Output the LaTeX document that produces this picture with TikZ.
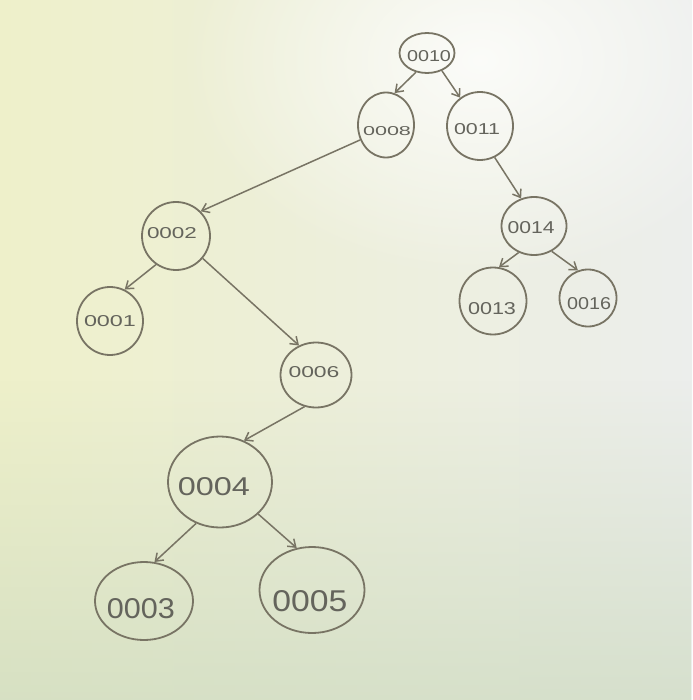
\documentclass[tikz,border=0pt]{standalone}
\usepackage{fontspec}
\setmainfont{Liberation Sans}
\usepackage{graphicx}
\usetikzlibrary{shapes.geometric,arrows.meta,fadings}
\tikzfading[name=softglow, inner color=transparent!0, outer color=transparent!100]
\definecolor{pencil}{RGB}{120,116,100}
\definecolor{ink}{RGB}{100,100,92}
\definecolor{paperL}{RGB}{238,240,202}
\definecolor{paperR}{RGB}{236,238,236}
\definecolor{paperG}{RGB}{205,218,192}
\tikzset{
  bubble/.style={ellipse, draw=pencil, line width=1.8pt, inner sep=0pt},
  lbl/.style={inner sep=0pt, text=ink},
  edge/.style={draw=pencil, line width=1.5pt, -{Straight Barb[length=7pt,width=10pt]}}
}
\newcommand{\hw}[3]{\resizebox{#1pt}{#2pt}{#3}}
\begin{document}
\begin{tikzpicture}[x=1pt,y=-1pt]
\useasboundingbox (0,0) rectangle (692,700);
\shade[left color=paperL, right color=paperR] (0,0) rectangle (692,700);
\fill[paperG, path fading=north, opacity=0.7] (0,380) rectangle (692,700);
\fill[white, path fading=softglow, opacity=0.8] (480,60) ellipse (300 and 220);

% nodes
\node[bubble, minimum width=55pt, minimum height=40pt] (n10) at (427,53) {};
\node[bubble, minimum width=56pt, minimum height=65pt] (n8) at (386,125) {};
\node[bubble, minimum width=66pt, minimum height=68pt] (n11) at (480,126) {};
\node[bubble, minimum width=65pt, minimum height=58pt] (n14) at (534,226) {};
\node[bubble, minimum width=67pt, minimum height=67pt] (n13) at (493,301) {};
\node[bubble, minimum width=57pt, minimum height=57pt] (n16) at (588,298) {};
\node[bubble, minimum width=68pt, minimum height=68pt] (n2) at (176,236) {};
\node[bubble, minimum width=66pt, minimum height=68pt] (n1) at (110,321) {};
\node[bubble, minimum width=71pt, minimum height=65pt] (n6) at (316,375) {};
\node[bubble, minimum width=104pt, minimum height=91pt] (n4) at (220,482) {};
\node[bubble, minimum width=98pt, minimum height=78pt] (n3) at (144,601) {};
\node[bubble, minimum width=105pt, minimum height=86pt] (n5) at (312,590) {};

% labels
\node[lbl] (t10) at (429,56) {\hw{44}{11}{0010}};
\node[lbl] (t8) at (387,131) {\hw{48}{9}{0008}};
\node[lbl] (t11) at (477,129) {\hw{46}{11}{0011}};
\node[lbl] (t14) at (531,228) {\hw{47}{12}{0014}};
\node[lbl] (t13) at (492,309) {\hw{48}{12}{0013}};
\node[lbl] (t16) at (589,304) {\hw{44}{12}{0016}};
\node[lbl] (t2) at (172,233) {\hw{50}{11}{0002}};
\node[lbl] (t1) at (110,321) {\hw{52}{11}{0001}};
\node[lbl] (t6) at (314,372) {\hw{51}{11}{0006}};
\node[lbl] (t4) at (214,487) {\hw{72}{18}{0004}};
\node[lbl] (t3) at (141,609) {\hw{68}{20}{0003}};
\node[lbl] (t5) at (310,601) {\hw{75}{21}{0005}};

% edges
\draw[edge] (n10.240) -- (n8.75);
\draw[edge] (n10.-50) -- (n11.125);
\draw[edge] (n8.210) -- (n2.45);
\draw[edge] (n11.-65) -- (n14.115);
\draw[edge] (n14.240) -- (n13.80);
\draw[edge] (n14.-55) -- (n16.110);
\draw[edge] (n2.235) -- (n1.65);
\draw[edge] (n2.-40) -- (n6.120);
\draw[edge] (n6.250) -- (n4.60);
\draw[edge] (n4.240) -- (n3.75);
\draw[edge] (n4.-40) -- (n5.110);
\end{tikzpicture}
\end{document}
